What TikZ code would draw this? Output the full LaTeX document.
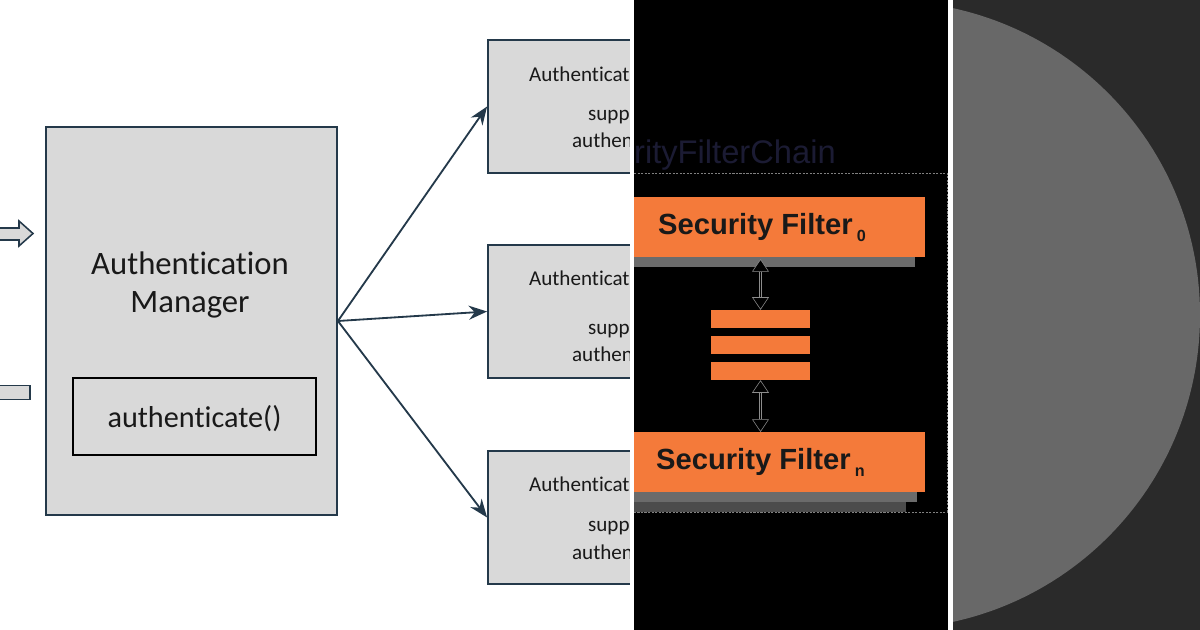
\documentclass[tikz,border=0pt]{standalone}
\usepackage{fontspec}
\setmainfont[Ligatures=NoCommon]{Carlito}
\newfontfamily\filterfont{Liberation Sans}
\usetikzlibrary{arrows.meta}
\definecolor{boxgray}{HTML}{D9D9D9}
\definecolor{edgeblue}{HTML}{24394A}
\definecolor{filterorange}{HTML}{F47A3A}
\definecolor{shadowgray}{HTML}{6B6B6B}
\definecolor{darkpanel}{HTML}{2A2A2A}
\definecolor{discgray}{HTML}{686868}
\definecolor{chaindark}{HTML}{1B1B33}
\tikzset{
    panelbox/.style={draw=edgeblue,line width=2.6pt,fill=boxgray,inner sep=0pt},
    providerbox/.style={panelbox,minimum width=10.6cm,minimum height=6.65cm},
    providertext/.style={anchor=base west,inner sep=0pt,font=\fontsize{30}{30}\selectfont,text=black!90},
    flowarrow/.style={-{Stealth[length=26pt,width=20pt]},draw=edgeblue,line width=2.6pt},
    filterbox/.style={fill=filterorange,inner sep=0pt,minimum width=15.25cm,minimum height=3cm},
    filtertext/.style={anchor=base west,inner sep=0pt,font=\filterfont\bfseries\fontsize{41.5}{41.5}\selectfont,text=black!90},
    barbox/.style={fill=filterorange,inner sep=0pt,minimum width=4.95cm,minimum height=0.9cm},
    pagetip/.tip={Triangle[length=18pt,width=24pt,fill=black,color=black!45,line width=0.8pt]},
    pagearrow/.style={{pagetip}-{pagetip},draw=black!45,line width=0.8pt,double=black,double distance=2.4pt},
}
\newcommand{\filtersub}[1]{\kern 6pt\raisebox{-10pt}{\fontsize{23}{23}\selectfont #1}}
\begin{document}
\begin{tikzpicture}[x=0.05cm,y=-0.05cm]
    \useasboundingbox (0, 0) rectangle (1200, 630);
    \fill[white] (0, 0) rectangle (634, 630);

    \node[panelbox,minimum width=14.55cm,minimum height=19.4cm] (MANAGER) at (191.5, 321) {};
    \node[align=center,inner sep=0pt,font=\fontsize{46.5}{55}\selectfont,text=black!90] (MANAGERTEXT) at (190, 285) {Authentication\\Manager};
    \node[draw=black,line width=2.6pt,fill=boxgray,inner sep=0pt,minimum width=12.15cm,minimum height=3.85cm,font=\fontsize{43}{43}\selectfont,text=black!90] (AUTH) at (194.5, 416.5) {\raisebox{-15pt}[0pt][0pt]{authenticate()}};

    \node[draw=edgeblue,line width=2.2pt,fill=boxgray,inner sep=0pt,minimum width=2cm,minimum height=0.7cm] (BAR) at (10, 392.5) {};
    \coordinate (A) at (-5, 228);
    \coordinate (B) at (19, 228);
    \coordinate (C) at (19, 221);
    \coordinate (D) at (33, 233.5);
    \coordinate (E) at (19, 246);
    \coordinate (F) at (19, 240);
    \coordinate (G) at (-5, 240);
    \draw[draw=edgeblue,line width=2.2pt,fill=boxgray] (A) -- (B) -- (C) -- (D) -- (E) -- (F) -- (G);

    \node[providerbox] (PROVA) at (594, 106.5) {};
    \node[providerbox] (PROVB) at (594, 311.5) {};
    \node[providerbox] (PROVC) at (594, 517.5) {};

    \node[providertext] (NAMEA) at (529, 81) {Authenticat};
    \node[providertext] (SUPPA) at (588, 120) {supp};
    \node[providertext] (METHA) at (572, 147) {authen};
    \node[providertext] (NAMEB) at (529, 285) {Authenticat};
    \node[providertext] (SUPPB) at (588, 334) {supp};
    \node[providertext] (METHB) at (572, 361) {authen};
    \node[providertext] (NAMEC) at (529, 491) {Authenticat};
    \node[providertext] (SUPPC) at (588, 531) {supp};
    \node[providertext] (METHC) at (572, 559) {authen};

    \draw[flowarrow] (MANAGER.east) -- (PROVA.west);
    \draw[flowarrow] (MANAGER.east) -- (PROVB.west);
    \draw[flowarrow] (MANAGER.east) -- (PROVC.west);

    \fill[white] (630, 0) rectangle (634, 630);
    \fill[black] (634, 0) rectangle (948, 630);
    \fill[white] (948, 0) rectangle (953, 630);
    \fill[darkpanel] (953, 0) rectangle (1200, 630);
    \begin{scope}
        \clip (953, 0) rectangle (1200, 630);
        \fill[discgray] (886, 315) circle (314);
    \end{scope}

    \node[anchor=base west,inner sep=0pt,font=\filterfont\fontsize{46.5}{46.5}\selectfont,text=chaindark] (CHAINTEXT) at (634, 163) {rityFilterChain};

    \fill[shadowgray] (634, 257) rectangle (915, 267);
    \fill[shadowgray] (634, 492) rectangle (917, 502);
    \fill[black!70] (634, 502) rectangle (906, 512);
    \draw[draw=black!50,dash pattern=on 3pt off 2pt,line width=1pt] (634, 173) -- (947, 173) -- (947, 512) -- (634, 512);

    \begin{scope}
        \clip (634, 0) rectangle (948, 630);
        \node[filterbox] (FILTERZERO) at (772.5, 227) {};
        \node[filterbox] (FILTERN) at (772.5, 462) {};
    \end{scope}
    \node[filtertext] (ZEROTEXT) at (658, 234) {Security Filter\filtersub{0}};
    \node[filtertext] (NTEXT) at (656, 469) {Security Filter\filtersub{n}};

    \node[barbox] (BARA) at (760.5, 319) {};
    \node[barbox] (BARB) at (760.5, 345) {};
    \node[barbox] (BARC) at (760.5, 371) {};

    \coordinate (TOPZERO) at (760.5, 259);
    \coordinate (TOPN) at (760.5, 432);
    \draw[pagearrow] (TOPZERO) -- (BARA.north);
    \draw[pagearrow] (BARC.south) -- (TOPN);
\end{tikzpicture}
\end{document}
